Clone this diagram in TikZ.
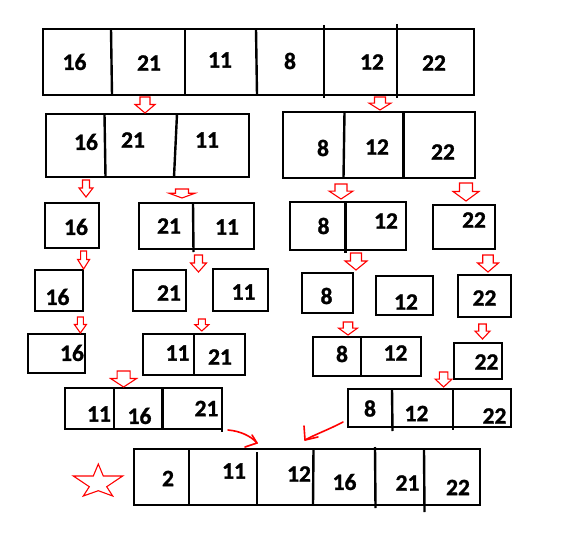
\documentclass[tikz,border=0pt]{standalone}
\usepackage{fontspec}
\setmainfont{Carlito}[BoldFeatures={FakeBold=1.2}]
\begin{document}
\begin{tikzpicture}[x=1pt,y=-1pt,
  box/.style={draw=black, line width=2.4pt, inner sep=0pt, outer sep=0pt, rectangle},
  divider/.style={draw=black, line width=2.4pt},
  num/.style={inner sep=0pt, font=\fontsize{23.5}{23.5}\selectfont\bfseries},
  barrow/.style={draw=red, line width=1.1pt, line join=miter},
  carrow/.style={draw=red, line width=1.6pt, line cap=round, line join=round}]
\useasboundingbox (0,0) rectangle (567,543);
\newcommand\bx[5]{\node[box, minimum width={#4-#2}, minimum height={#5-#3}] (#1) at ({(#2+#4)/2},{(#3+#5)/2}) {};}
\newcommand\darr[4]{%
 \pgfmathsetmacro\dSa{#1-0.5*#4}\pgfmathsetmacro\dSb{#1+0.5*#4}%
 \pgfmathsetmacro\dHa{#1-#4}\pgfmathsetmacro\dHb{#1+#4}%
 \pgfmathsetmacro\dYm{#2+0.47*(#3-#2)}%
 \draw[barrow] (\dSa,#2) -- (\dSb,#2) -- (\dSb,\dYm) -- (\dHb,\dYm) -- (#1,#3) -- (\dHa,\dYm) -- (\dSa,\dYm) -- cycle;}
% row 1
\bx{b1}{43}{29}{474}{95}
\draw[divider] (111,29) -- (112,95);
\draw[divider] (185,29) -- (185,95);
\draw[divider] (256,29) -- (257,95);
\draw[divider] (324,25) -- (324,98);
\draw[divider] (397,24) -- (397,98);
\node[num] (t11) at (74.5,62) {16};
\node[num] (t12) at (149,63) {21};
\node[num] (t13) at (220,60) {11};
\node[num] (t14) at (290,61) {8};
\node[num] (t15) at (372,62) {12};
\node[num] (t16) at (434,63) {22};
% row 2
\bx{b2l}{46}{114}{249}{177}
\draw[divider] (104.5,114) -- (105.5,177);
\draw[divider] (177,114) -- (174,177);
\node[num] (t21) at (86,142) {16};
\node[num] (t22) at (133,140) {21};
\node[num] (t23) at (207,140) {11};
\bx{b2r}{283}{112}{475}{178}
\draw[divider] (344.5,112) -- (343.5,178);
\draw[divider] (403.5,112) -- (403.5,178);
\node[num] (t24) at (323,148) {8};
\node[num] (t25) at (377,147) {12};
\node[num] (t26) at (443,152) {22};
% row 3
\bx{b3a}{45}{203}{99}{248}
\node[num] (t31) at (76,227) {16};
\bx{b3b}{139}{203}{254}{249}
\draw[divider] (193,203) -- (193.5,252);
\node[num] (t32) at (169,226) {21};
\node[num] (t33) at (227,227) {11};
\bx{b3c}{290}{202}{406}{250}
\draw[divider] (345.5,202) -- (345.5,253);
\node[num] (t34) at (323.5,226) {8};
\node[num] (t35) at (386,221) {12};
\bx{b3d}{433}{205}{495}{249}
\node[num] (t36) at (474,220) {22};
% row 4
\bx{b4a}{35}{270}{83}{311}
\node[num] (t41) at (57.5,297) {16};
\bx{b4b}{133}{270}{186}{311}
\node[num] (t42) at (169,293) {21};
\bx{b4c}{213}{269}{268}{311}
\node[num] (t43) at (243.5,292) {11};
\bx{b4d}{302}{273}{353}{313}
\node[num] (t44) at (326.5,296) {8};
\bx{b4e}{376}{276}{433}{315}
\node[num] (t45) at (406,302) {12};
\bx{b4f}{458}{275}{511}{317}
\node[num] (t46) at (484.5,298) {22};
% row 5
\bx{b5a}{28}{334}{85}{373}
\node[num] (t51) at (72,353) {16};
\bx{b5b}{143}{334}{245}{375}
\draw[divider] (194,334) -- (194,375);
\node[num] (t52) at (177.5,353) {11};
\node[num] (t53) at (220,357) {21};
\bx{b5c}{313}{337}{421}{376}
\draw[divider] (361,337) -- (361,376);
\node[num] (t54) at (342,354) {8};
\node[num] (t55) at (395.5,353) {12};
\bx{b5d}{454}{343}{502}{379}
\node[num] (t56) at (486.5,362) {22};
% row 6
\bx{b6l}{65}{388}{222}{429}
\draw[divider] (114,388) -- (114,429);
\draw[divider] (162.5,388) -- (162.5,429);
\draw[divider] (222,429) -- (222,432);
\node[num] (t61) at (99,414) {11};
\node[num] (t62) at (139.5,416) {16};
\node[num] (t63) at (206.5,408.5) {21};
\bx{b6r}{348}{389}{511}{427}
\draw[divider] (392,389) -- (392.5,431);
\draw[divider] (453,389) -- (453,430);
\node[num] (t64) at (370,408.5) {8};
\node[num] (t65) at (416.5,413.5) {12};
\node[num] (t66) at (494.5,416) {22};
% row 7
\bx{b7}{134}{449}{480}{505}
\draw[divider] (189,449) -- (189,505);
\draw[divider] (257,452) -- (257,505);
\draw[divider] (313.5,449) -- (313,505);
\draw[divider] (375,447) -- (375.5,508);
\draw[divider] (424,450) -- (424.5,512);
\node[num] (t71) at (168,478.5) {2};
\node[num] (t72) at (234,471) {11};
\node[num] (t73) at (299,474) {12};
\node[num] (t74) at (344.5,482) {16};
\node[num] (t75) at (407.5,483) {21};
\node[num] (t76) at (458,487.5) {22};
% block arrows
\darr{145}{97}{113}{10}
\darr{380}{97}{110}{11}
\darr{86}{180}{197}{7}
\darr{182}{189}{198}{13}
\darr{341}{184}{199}{12}
\darr{466}{183}{201}{13}
\darr{83.6}{251}{269}{6}
\darr{198.5}{255}{272}{8}
\darr{356}{253}{270}{11}
\darr{488}{255}{272}{10.5}
\darr{80.4}{317}{333}{6}
\darr{201.8}{319}{331}{7}
\darr{348}{322}{335}{9.5}
\darr{482.5}{324}{339}{7.5}
\darr{123.6}{371}{387}{13}
\darr{443.6}{372}{387}{8.5}
% curved arrows into final box
\coordinate (la) at (228,430);
\coordinate (lt) at (257,443);
\coordinate (ra) at (343,422);
\coordinate (rt) at (305,440);
\draw[carrow] (la) .. controls (240,431) and (251,436) .. (lt);
\draw[carrow] (252,435) -- (lt) -- (245,447);
\draw[carrow] (ra) .. controls (330,429) and (316,434) .. (rt);
\draw[carrow] (304,426) -- (rt) -- (318,437);
% star
\draw[red, line width=1.1pt, line join=miter] (98.3,464) -- (103.3,476) -- (122.7,476) -- (106.7,486.7) -- (112.7,496) -- (98.3,490.7) -- (83.3,496) -- (89.3,486.7) -- (73.3,476) -- (93.3,476) -- cycle;
\end{tikzpicture}
\end{document}
